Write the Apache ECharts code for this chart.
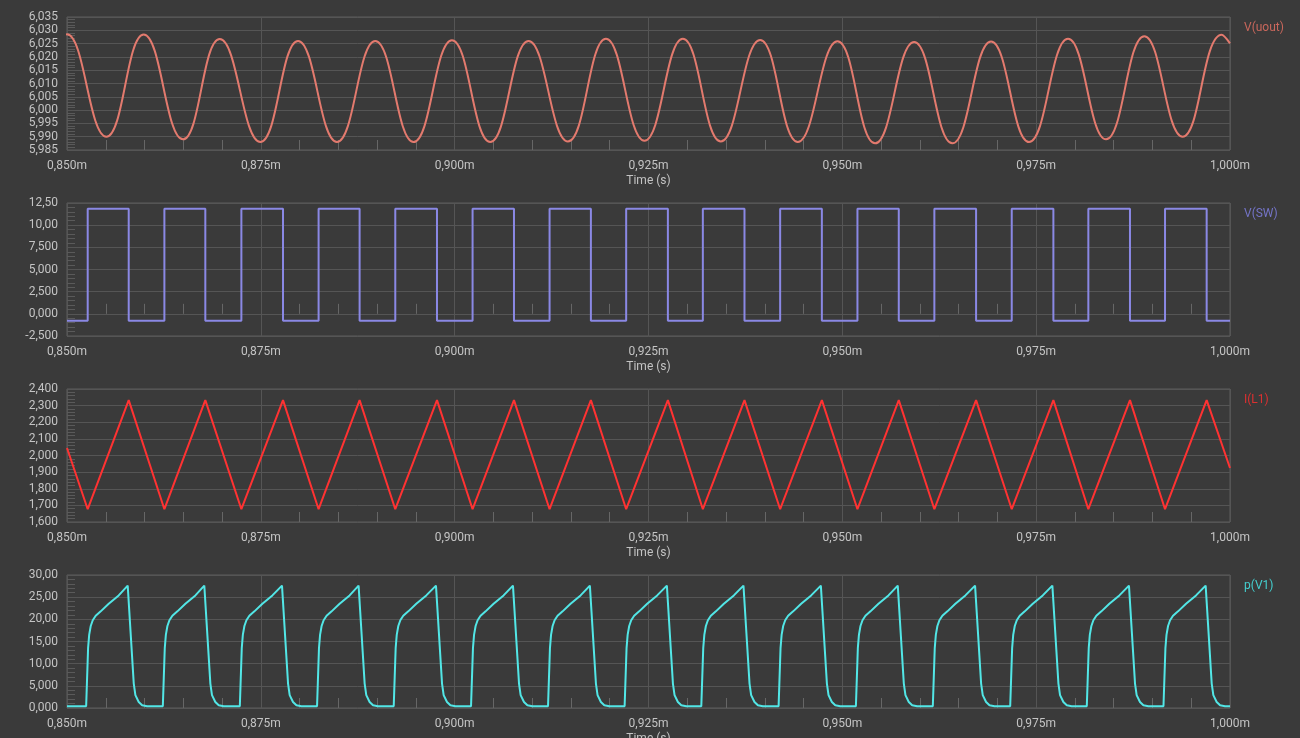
<!DOCTYPE html>
<html>
<head>
<meta charset="utf-8">
<script src="https://cdn.jsdelivr.net/npm/echarts@6/dist/echarts.min.js"></script>
<style>
html,body{margin:0;padding:0;background:#3a3a3a;}
#c{width:1300px;height:738px;}
</style>
</head>
<body>
<div id="c"></div>
<script>
// ---- data (time in ms) ----
const swRiseT = [0.85267,0.86256,0.87249,0.88245,0.89234,0.90231,0.91224,0.92212,0.93201,0.94198,0.95195,0.96187,0.97185,0.98173,0.99162];
const swFallT = [0.85796,0.86784,0.87786,0.88774,0.89772,0.90765,0.91757,0.92750,0.93738,0.94736,0.95728,0.96725,0.97722,0.98710,0.99699];
const swHigh = 11.85;
const swLow = -0.78;

// previous (off-screen) trough estimated just left of the window, keeps the start rounded
const vPreT = 0.84525;
const vPre = 5.9905;
const vStart = 6.0285;
const vEnd = 6.0251;
const vTroughT = [0.85508,0.86497,0.87494,0.88482,0.89470,0.90459,0.91461,0.92448,0.93433,0.94426,0.95423,0.96419,0.97408,0.98401,0.99390];
const vTrough = [5.9900,5.9890,5.9880,5.9880,5.9880,5.9880,5.9882,5.9885,5.9882,5.9880,5.9875,5.9875,5.9880,5.9890,5.9900];
const vPeakT = [0.85989,0.86970,0.87980,0.88976,0.89965,0.90953,0.91951,0.92943,0.93940,0.94937,0.95926,0.96918,0.97911,0.98895,0.99893];
const vPeak = [6.0284,6.0267,6.0260,6.0260,6.0263,6.0260,6.0268,6.0268,6.0264,6.0259,6.0256,6.0258,6.0268,6.0278,6.0283];

const iStart = 2.045;
const iEnd = 1.925;
const iTrough = [1.677,1.677,1.677,1.677,1.677,1.677,1.677,1.677,1.677,1.677,1.677,1.677,1.677,1.677,1.677];
const iPeak = [2.333,2.333,2.333,2.333,2.333,2.333,2.333,2.333,2.333,2.333,2.333,2.333,2.333,2.333,2.333];

const pStart = 0.42;
const pEnd = 0.40;
// shape of p(V1) around each switch edge (offsets in microseconds)
const pOnDt  = [-0.20, -0.05, 0.05, 0.19, 0.39, 0.65, 1.03, 1.68, 2.71, 4.00];
const pOnVal = [0.38, 0.10, 13.5, 16.5, 18.5, 19.8, 20.8, 21.8, 23.5, 25.4];
const pOffDt  = [-0.13, 0.65, 0.86, 1.29, 1.73, 2.37];
const pOffVal = [27.6, 5.5, 2.9, 1.35, 0.6, 0.4];

const xMin = 0.85, xMax = 1.0;
const names = ['V(uout)','V(SW)','I(L1)','p(V1)'];
const lineColors = ['#e37a6e','#8a88e4','#ff3232','#52e6e6'];
const labelColors = ['#c9675c','#7474c8','#dc3030','#44cfcf'];

// ---- build series ----
const uData = [[vPreT, vPre], [xMin, vStart]];
for (let i = 0; i < vTroughT.length; i++) {
  uData.push([vTroughT[i], vTrough[i]]);
  uData.push([vPeakT[i], vPeak[i]]);
}
uData.push([xMax, vEnd]);

const swData = [[xMin, swLow]];
for (let i = 0; i < swRiseT.length; i++) {
  swData.push([swRiseT[i], swLow], [swRiseT[i], swHigh], [swFallT[i], swHigh], [swFallT[i], swLow]);
}
swData.push([xMax, swLow]);

const iData = [[xMin, iStart]];
for (let i = 0; i < swRiseT.length; i++) {
  iData.push([swRiseT[i], iTrough[i]], [swFallT[i], iPeak[i]]);
}
iData.push([xMax, iEnd]);

const pData = [[xMin, pStart]];
for (let i = 0; i < swRiseT.length; i++) {
  for (let k = 0; k < pOnDt.length; k++) pData.push([swRiseT[i] + pOnDt[k] / 1000, pOnVal[k]]);
  for (let k = 0; k < pOffDt.length; k++) pData.push([swFallT[i] + pOffDt[k] / 1000, pOffVal[k]]);
}
pData.push([xMax, pEnd]);

// ---- layout ----
const tops = [17, 203, 389, 575];
const gridH = 133;
const yCfg = [
  {min: 5.985, max: 6.035, interval: 0.005},
  {min: -2.5, max: 12.5, interval: 2.5},
  {min: 1.6, max: 2.4, interval: 0.1},
  {min: 0, max: 30, interval: 5}
];
const font = 'Roboto, "DejaVu Sans", sans-serif';
const txt = '#c4c4c4';

const fmtY = v => {
  let s = Math.abs(v) < 1e-9 ? (0).toPrecision(4) : Number(v).toPrecision(4);
  return s.replace('.', ',');
};
const fmtX = v => Number(v).toFixed(3).replace('.', ',') + 'm';

const grids = [], xAxes = [], yAxes = [], series = [], graphics = [];
const datas = [uData, swData, iData, pData];
for (let g = 0; g < 4; g++) {
  grids.push({left: 67, right: 70, top: tops[g], height: gridH, show: true,
    containLabel: false, outerBoundsMode: 'none',
    borderColor: '#5c5c5c', borderWidth: 1, backgroundColor: 'transparent'});
  xAxes.push({type: 'value', gridIndex: g, min: xMin, max: xMax, interval: 0.025,
    name: 'Time (s)', nameLocation: 'middle', nameGap: 25,
    nameTextStyle: {color: txt, fontSize: 12, fontFamily: font},
    axisLine: {show: false},
    axisTick: {show: false, inside: true},
    minorTick: {show: true, splitNumber: 5, length: 10, lineStyle: {color: '#666666', width: 1}},
    splitLine: {show: true, lineStyle: {color: '#555555', width: 1}},
    axisLabel: {color: txt, fontSize: 12, fontFamily: font, margin: 10, formatter: fmtX}
  });
  yAxes.push({type: 'value', gridIndex: g, min: yCfg[g].min, max: yCfg[g].max, interval: yCfg[g].interval,
    axisLine: {show: false},
    axisTick: {show: false, inside: true},
    minorTick: {show: true, splitNumber: 5, length: 8, lineStyle: {color: '#5a5a5a', width: 1}},
    splitLine: {show: true, lineStyle: {color: '#555555', width: 1}},
    axisLabel: {color: txt, fontSize: 12, fontFamily: font, margin: 9, formatter: fmtY}
  });
  series.push({type: 'line', name: names[g], xAxisIndex: g, yAxisIndex: g, data: datas[g],
    showSymbol: false, symbol: 'none', smooth: g === 0 ? 0.45 : false, clip: true,
    lineStyle: {color: lineColors[g], width: 2}, animation: false});
  graphics.push({type: 'text', left: 1244, top: tops[g] + 5,
    style: {text: names[g], fill: labelColors[g], font: '12px ' + font}});
}

const chart = echarts.init(document.getElementById('c'), null, {renderer: 'canvas'});
chart.setOption({
  backgroundColor: '#3a3a3a',
  animation: false,
  grid: grids, xAxis: xAxes, yAxis: yAxes, series: series, graphic: graphics
});
</script>
</body>
</html>
